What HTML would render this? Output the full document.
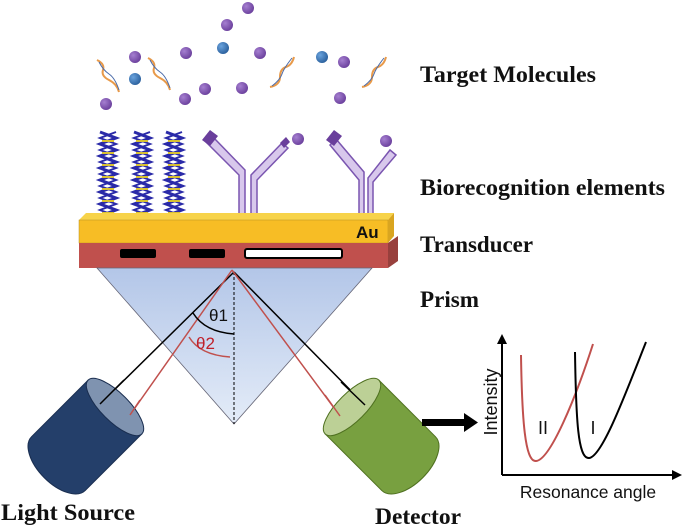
<!DOCTYPE html>
<html><head><style>
body{margin:0;background:#fff;}
svg{display:block;}
.lbl{font-family:"Liberation Serif",serif;font-weight:bold;font-size:23px;fill:#111;}
.sans{font-family:"Liberation Sans",sans-serif;}
</style></head><body>
<svg width="685" height="527" viewBox="0 0 685 527" xmlns="http://www.w3.org/2000/svg">
<defs>
<linearGradient id="pg" x1="0" y1="0" x2="0" y2="1"><stop offset="0" stop-color="#b3c6e8"/><stop offset="1" stop-color="#e4ecf8"/></linearGradient>
<radialGradient id="pu" cx="0.35" cy="0.35" r="0.7"><stop offset="0" stop-color="#a57fd0"/><stop offset="1" stop-color="#6a3f9c"/></radialGradient>
<radialGradient id="bl" cx="0.35" cy="0.35" r="0.7"><stop offset="0" stop-color="#6aa3dd"/><stop offset="1" stop-color="#2a5f9c"/></radialGradient>
</defs>
<g fill="url(#pu)">
<circle cx="248" cy="8" r="6"/><circle cx="227" cy="25" r="6"/><circle cx="135" cy="57" r="6"/><circle cx="186" cy="53" r="6"/><circle cx="260" cy="53" r="6"/><circle cx="344" cy="62" r="6"/><circle cx="106" cy="104" r="6"/><circle cx="185" cy="99" r="6"/><circle cx="242" cy="88" r="6"/><circle cx="205" cy="89" r="6"/><circle cx="340" cy="98" r="6"/><circle cx="298" cy="139" r="6"/><circle cx="386" cy="141" r="6"/>
</g>
<g fill="url(#bl)"><circle cx="135" cy="79" r="6"/><circle cx="223" cy="48" r="6"/><circle cx="322" cy="57" r="6"/></g>
<g stroke="#e89a4a" stroke-width="2" fill="none">
<path d="M97,60 q8,4 6,10 t6,10 t10,12"/><path d="M148,58 q8,4 6,10 t6,10 t10,12"/>
<path d="M270,87 q10,-2 10,-10 t6,-10 t8,-10"/><path d="M362,87 q10,-2 10,-10 t6,-10 t8,-10"/>
</g>
<g stroke="#4a6aa8" stroke-width="1" fill="none">
<path d="M99,62 q4,8 10,12 t10,16"/><path d="M150,60 q4,8 10,12 t10,16"/>
<path d="M272,86 q8,-6 10,-12 t10,-16"/><path d="M364,86 q8,-6 10,-12 t10,-16"/>
</g>
<g fill="none" stroke-width="3">
<g stroke="#2a2aa8">
<path d="M100,132 l16,6 l-16,6 l16,6 l-16,6 l16,6 l-16,6 l16,6 l-16,6 l16,6 l-16,6 l16,6 l-16,6 l16,6 l-16,6"/>
<path d="M134,132 l16,6 l-16,6 l16,6 l-16,6 l16,6 l-16,6 l16,6 l-16,6 l16,6 l-16,6 l16,6 l-16,6 l16,6 l-16,6"/>
<path d="M166,132 l16,6 l-16,6 l16,6 l-16,6 l16,6 l-16,6 l16,6 l-16,6 l16,6 l-16,6 l16,6 l-16,6 l16,6 l-16,6"/>
<path d="M116,132 l-16,6 l16,6 l-16,6 l16,6 l-16,6 l16,6 l-16,6 l16,6 l-16,6 l16,6 l-16,6 l16,6 l-16,6 l16,6" stroke-width="2"/>
<path d="M150,132 l-16,6 l16,6 l-16,6 l16,6 l-16,6 l16,6 l-16,6 l16,6 l-16,6 l16,6 l-16,6 l16,6 l-16,6 l16,6" stroke-width="2"/>
<path d="M182,132 l-16,6 l16,6 l-16,6 l16,6 l-16,6 l16,6 l-16,6 l16,6 l-16,6 l16,6 l-16,6 l16,6 l-16,6 l16,6" stroke-width="2"/>
</g>
<g stroke="#d8c030" stroke-width="2">
<path d="M102,141 h12 M102,153 h12 M102,165 h12 M102,177 h12 M102,189 h12 M102,201 h12 M102,213 h12"/>
<path d="M136,141 h12 M136,153 h12 M136,165 h12 M136,177 h12 M136,189 h12 M136,201 h12 M136,213 h12"/>
<path d="M168,141 h12 M168,153 h12 M168,165 h12 M168,177 h12 M168,189 h12 M168,201 h12 M168,213 h12"/>
</g>
</g>
<g fill="#d8c8ec" stroke="#7a55b0" stroke-width="1.5">
<path d="M239,218 V175 L206,142 L212,136 L245,170 V218 Z"/>
<path d="M251,218 V175 L282,143 L288,148 L257,180 V218 Z"/>
<path d="M359,218 V180 L330,145 L336,139 L364,172 V218 Z"/>
<path d="M368,218 V178 L390,150 L396,155 L373,182 V218 Z"/>
</g>
<g fill="#6a3f9c"><path d="M202,140 l8,-10 l8,6 l-8,10z"/><path d="M326,140 l8,-10 l8,6 l-8,10z"/><path d="M280,143 l6,-6 l4,5 l-6,6z"/></g>
<polygon points="79,220 86,213 394,213 388,220" fill="#f7d34a"/>
<rect x="79" y="220" width="309" height="23" fill="#f7bd25" stroke="#b89020" stroke-width="0.5"/>
<polygon points="388,220 394,213 394,236 388,243" fill="#d9a520"/>
<text x="356" y="238" class="sans" font-size="17" font-weight="bold" fill="#111">Au</text>
<rect x="79" y="243" width="309" height="25" fill="#c0504d"/>
<polygon points="388,243 398,236 398,261 388,268" fill="#98403d"/>
<rect x="120" y="249" width="36" height="9" rx="2" fill="#000"/>
<rect x="189" y="249" width="36" height="9" rx="2" fill="#000"/>
<rect x="245" y="249" width="97" height="9" rx="2" fill="#fff" stroke="#000" stroke-width="2"/>
<polygon points="97,268 372,268 234,424" fill="url(#pg)" stroke="#667" stroke-width="0.8"/>
<line x1="234" y1="272" x2="234" y2="424" stroke="#000" stroke-dasharray="3,2" stroke-width="1"/>
<line x1="100" y1="404" x2="234" y2="272" stroke="#000" stroke-width="1.5"/>
<line x1="234" y1="272" x2="365" y2="405" stroke="#000" stroke-width="1.5"/>
<line x1="130" y1="415" x2="232" y2="270" stroke="#c0504d" stroke-width="1.5"/>
<line x1="232" y1="270" x2="340" y2="416" stroke="#c0504d" stroke-width="1.5"/>
<path d="M193,313 Q205,332 234,334" fill="none" stroke="#000" stroke-width="1.5"/>
<path d="M189,337 Q200,355 230,357" fill="none" stroke="#c0504d" stroke-width="1.5"/>
<text x="209" y="321" class="sans" font-size="17" fill="#111">θ1</text>
<text x="196" y="349" class="sans" font-size="17" fill="#c0202a">θ2</text>
<g transform="translate(115,407) rotate(-45)">
<path d="M0,-38 L-80,-38 A20,38 0 0 0 -80,38 L0,38 Z" fill="#243f6a" stroke="#1a2e50" stroke-width="1"/>
<ellipse cx="0" cy="0" rx="14" ry="38" fill="#7f93b0" stroke="#1a2e50" stroke-width="1"/>
</g>
<line x1="100" y1="404" x2="124" y2="380" stroke="#000" stroke-width="1.5"/>
<line x1="130" y1="415" x2="140" y2="400" stroke="#c0504d" stroke-width="1.5"/>
<g transform="translate(352,407) rotate(45)">
<path d="M0,-38 L80,-38 A20,38 0 0 1 80,38 L0,38 Z" fill="#78a040" stroke="#4f7020" stroke-width="1"/>
<ellipse cx="0" cy="0" rx="14" ry="38" fill="#bcd096" stroke="#4f7020" stroke-width="1"/>
</g>
<line x1="341" y1="382" x2="365" y2="405" stroke="#000" stroke-width="1.5"/>
<line x1="325" y1="395" x2="340" y2="416" stroke="#c0504d" stroke-width="1.5"/>
<rect x="422" y="419" width="44" height="7" fill="#000"/>
<polygon points="464,413 478,422.5 464,432" fill="#000"/>
<line x1="502" y1="475" x2="676" y2="475" stroke="#000" stroke-width="2"/>
<polygon points="682,475 672,470 672,480" fill="#000"/>
<line x1="502" y1="475" x2="502" y2="340" stroke="#000" stroke-width="2"/>
<polygon points="502,334 497,344 507,344" fill="#000"/>
<path d="M521,355 C522,420 525,462 536,461 C550,460 575,400 593,344" fill="none" stroke="#c0504d" stroke-width="2"/>
<path d="M575,352 C576,420 578,459 589,458 C602,457 625,395 646,342" fill="none" stroke="#000" stroke-width="2"/>
<text x="543" y="434" class="sans" font-size="18" fill="#111" text-anchor="middle">II</text>
<text x="593" y="434" class="sans" font-size="18" fill="#111" text-anchor="middle">I</text>
<text transform="translate(497,402) rotate(-90)" class="sans" font-size="18" fill="#111" text-anchor="middle">Intensity</text>
<text x="588" y="498" class="sans" font-size="17.5" fill="#111" text-anchor="middle">Resonance angle</text>
<text x="420" y="82" class="lbl" textLength="176" lengthAdjust="spacingAndGlyphs">Target Molecules</text>
<text x="420" y="195" class="lbl" textLength="245" lengthAdjust="spacingAndGlyphs">Biorecognition elements</text>
<text x="420" y="252" class="lbl" textLength="113" lengthAdjust="spacingAndGlyphs">Transducer</text>
<text x="420" y="307" class="lbl" textLength="59" lengthAdjust="spacingAndGlyphs">Prism</text>
<text x="1" y="520" class="lbl" font-size="24" textLength="134" lengthAdjust="spacingAndGlyphs">Light Source</text>
<text x="375" y="524" class="lbl" font-size="24" textLength="86" lengthAdjust="spacingAndGlyphs">Detector</text>
</svg>
</body></html>
